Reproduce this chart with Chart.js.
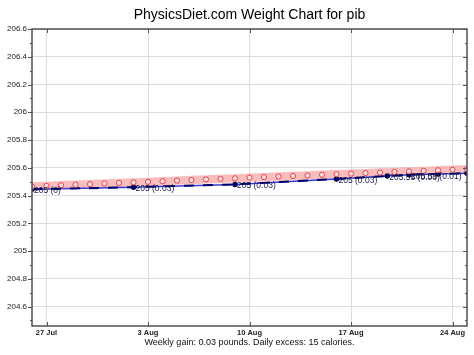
<!DOCTYPE html>
<html>
<head>
<meta charset="utf-8">
<script src="https://cdn.jsdelivr.net/npm/chart.js@4.4.1/dist/chart.umd.min.js"></script>
<style>
  html, body { margin: 0; padding: 0; background: #ffffff; }
  #wrap { width: 474px; height: 355px; }
</style>
</head>
<body>
<div id="wrap"><canvas id="c" width="474" height="355"></canvas></div>
<script>
// ---- data (days counted from 27 Jul) ----
const trendDays = [-1, 0, 1, 2, 3, 4, 5, 6, 7, 8, 9, 10, 11, 12, 13, 14, 15, 16, 17, 18, 19, 20, 21, 22, 23, 24, 25, 26, 27, 28, 29];
const trendValues = [205.465, 205.47, 205.474, 205.478, 205.482, 205.487, 205.491, 205.495, 205.499, 205.503, 205.508, 205.512, 205.516, 205.52, 205.524, 205.529, 205.533, 205.537, 205.541, 205.545, 205.55, 205.554, 205.558, 205.562, 205.566, 205.57, 205.574, 205.578, 205.582, 205.586, 205.59];
const bandHalfWidth = 0.03;
const weightDays = [-1, 6, 13, 20, 23.5, 25, 27, 29];
const weightValues = [205.445, 205.46, 205.48, 205.52, 205.54, 205.55, 205.556, 205.56];
const weightLabels = ['205 (0)', '205 (0.03)', '205 (0.03)', '205 (0.03)', '205.55 (0.03)', '205.58 (0.01)', '', '205.56 (0.01)'];
const xTickDays = [0, 7, 14, 21, 28];
const xTickLabels = ['27 Jul', '3 Aug', '10 Aug', '17 Aug', '24 Aug'];
const yTickValues = [204.6, 204.8, 205, 205.2, 205.4, 205.6, 205.8, 206, 206.2, 206.4, 206.6];
const yTickLabels = ['204.6', '204.8', '205', '205.2', '205.4', '205.6', '205.8', '206', '206.2', '206.4', '206.6'];
const yMinorValues = [204.5, 204.7, 204.9, 205.1, 205.3, 205.5, 205.7, 205.9, 206.1, 206.3, 206.5];
const titleText = 'PhysicsDiet.com Weight Chart for pib';
const footerText = 'Weekly gain: 0.03 pounds. Daily excess: 15 calories.';

const FONT = '"Liberation Sans", Arial, Helvetica, sans-serif';

const trendPts = trendDays.map((d, i) => ({x: d, y: trendValues[i]}));
const upperPts = trendDays.map((d, i) => ({x: d, y: trendValues[i] + bandHalfWidth}));
const lowerPts = trendDays.map((d, i) => ({x: d, y: trendValues[i] - bandHalfWidth}));
const weightPts = weightDays.map((d, i) => ({x: d, y: weightValues[i]}));

const framePlugin = {
  id: 'frame',
  afterDatasetsDraw(chart) {
    const ctx = chart.ctx, a = chart.chartArea;
    const xs = chart.scales.x, ys = chart.scales.y;
    ctx.save();
    ctx.beginPath();
    ctx.rect(a.left, a.top, a.right - a.left, a.bottom - a.top);
    ctx.clip();
    ctx.font = '8.5px ' + FONT;
    ctx.fillStyle = '#1a1a4a';
    ctx.textAlign = 'left';
    ctx.textBaseline = 'middle';
    weightPts.forEach((p, i) => {
      if (!weightLabels[i]) return;
      ctx.fillText(weightLabels[i], xs.getPixelForValue(p.x) + 2, ys.getPixelForValue(p.y) + 1.5);
    });
    ctx.restore();
  },
  afterDraw(chart) {
    const ctx = chart.ctx, a = chart.chartArea;
    const xs = chart.scales.x, ys = chart.scales.y;
    ctx.save();
    ctx.strokeStyle = '#555555';
    ctx.lineWidth = 1;
    ctx.beginPath();
    const tick = (vals, len) => {
      vals.forEach(v => {
        const y = Math.round(ys.getPixelForValue(v)) + 0.5;
        ctx.moveTo(a.left - len, y); ctx.lineTo(a.left, y);
        ctx.moveTo(a.right, y); ctx.lineTo(a.right - len, y);
      });
    };
    tick(yTickValues, 4);
    tick(yMinorValues, 2);
    xTickDays.forEach(d => {
      const x = Math.round(xs.getPixelForValue(d)) + 0.5;
      ctx.moveTo(x, a.top); ctx.lineTo(x, a.top + 4);
      ctx.moveTo(x, a.bottom); ctx.lineTo(x, a.bottom - 4);
    });
    ctx.stroke();
    ctx.lineWidth = 1.5;
    ctx.strokeStyle = '#505050';
    ctx.strokeRect(a.left, a.top, a.right - a.left, a.bottom - a.top);
    ctx.restore();
  }
};

new Chart(document.getElementById('c'), {
  type: 'line',
  data: {
    datasets: [
      { data: upperPts, borderWidth: 0, pointRadius: 0, fill: '+1', backgroundColor: 'rgba(248,178,178,0.85)', order: 5 },
      { data: lowerPts, borderWidth: 0, pointRadius: 0, fill: false, order: 5 },
      { data: weightPts, borderColor: '#3a3ad8', borderWidth: 1.5, pointRadius: 2, pointBackgroundColor: '#00005a', pointBorderColor: '#00005a', fill: false, order: 3 },
      { data: weightPts, borderColor: '#000066', borderWidth: 2, borderDash: [10, 9], pointRadius: 0, fill: false, order: 2 },
      { data: trendPts, showLine: false, pointRadius: 2.6, pointBorderWidth: 1, pointBorderColor: '#e0454c', pointBackgroundColor: 'rgba(255,225,225,0.9)', order: 1 }
    ]
  },
  options: {
    responsive: false,
    animation: false,
    devicePixelRatio: 1,
    layout: { padding: { left: 0, right: 7, top: 0, bottom: 0 } },
    plugins: {
      legend: { display: false },
      tooltip: { enabled: false },
      title: { display: true, fullSize: false, text: titleText, color: '#000000', font: { family: FONT, size: 14, weight: 'normal' }, padding: { top: 7, bottom: 5.2 } },
      subtitle: { display: true, fullSize: false, position: 'bottom', text: footerText, color: '#111111', font: { family: FONT, size: 9, weight: 'normal' }, padding: { top: 0, bottom: 6.6 } }
    },
    scales: {
      x: {
        type: 'linear', min: -1, max: 29,
        afterBuildTicks: s => { s.ticks = xTickDays.map(v => ({ value: v })); },
        afterFit: s => { s.height = 11.6; },
        grid: { color: '#dddddd', lineWidth: 1, drawTicks: false },
        border: { display: false },
        ticks: {
          padding: 2.5, maxRotation: 0, autoSkip: false,
          color: '#222222', font: { family: FONT, size: 7.5, weight: 'bold' },
          callback: v => { const i = xTickDays.indexOf(v); return i >= 0 ? xTickLabels[i] : ''; }
        }
      },
      y: {
        type: 'linear', min: 204.46, max: 206.6,
        afterBuildTicks: s => { s.ticks = yTickValues.map(v => ({ value: v })); },
        afterFit: s => { s.width = 32; },
        grid: { color: '#dddddd', lineWidth: 1, drawTicks: false },
        border: { display: false },
        ticks: {
          padding: 5, autoSkip: false,
          color: '#222222', font: { family: FONT, size: 8 },
          callback: v => { const i = yTickValues.findIndex(t => Math.abs(t - v) < 1e-6); return i >= 0 ? yTickLabels[i] : ''; }
        }
      }
    }
  },
  plugins: [framePlugin]
});
</script>
</body>
</html>
